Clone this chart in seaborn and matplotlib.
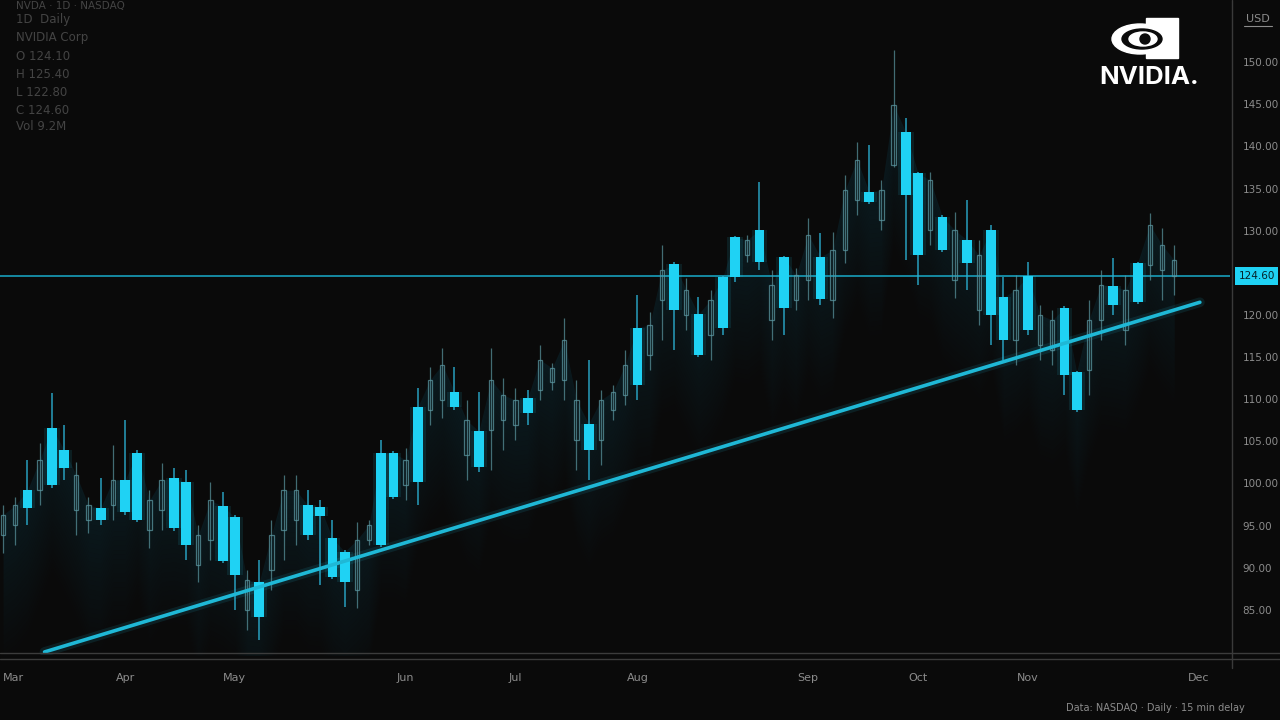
#!/usr/bin/env python3
"""
NVDA daily candles - dark terminal style chart with trend line and last price.
"""

import numpy as np
import pandas as pd
import matplotlib
matplotlib.use("Agg")
import matplotlib.pyplot as plt
from matplotlib.lines import Line2D
from matplotlib.patches import Rectangle, Ellipse, Circle
import seaborn as sns

# ─── Data ─────────────────────────────────────────────────────────────────────
OPEN = [
    96.3, 97.4, 97.1, 102.8, 99.8, 101.8, 101.0, 97.4, 95.7, 100.4,
    96.6, 95.7, 98.0, 100.4, 94.7, 92.7, 93.9, 98.0, 90.8, 89.1,
    88.5, 84.2, 93.9, 99.2, 99.2, 93.9, 96.1, 88.9, 88.3, 93.3,
    95.1, 92.7, 98.4, 102.8, 100.2, 112.3, 114.1, 109.1, 107.5, 102.0,
    112.3, 110.5, 109.9, 108.4, 114.7, 113.7, 117.0, 109.9, 104.0, 109.9,
    110.9, 114.1, 111.7, 118.8, 125.3, 120.6, 123.0, 115.2, 121.8, 118.5,
    124.5, 128.9, 126.3, 123.6, 120.8, 124.7, 129.5, 121.9, 127.7, 134.8,
    138.4, 133.4, 134.8, 144.9, 134.2, 127.1, 136.0, 127.7, 130.1, 126.2,
    127.1, 120.0, 117.0, 123.0, 118.2, 120.0, 119.4, 112.9, 108.7, 119.4,
    123.6, 121.2, 123.0, 121.5, 130.7, 128.3, 126.5,
]
HIGH = [
    97.4, 98.4, 102.8, 104.8, 110.7, 106.9, 102.5, 98.4, 100.7, 104.6,
    107.5, 104.0, 99.2, 102.4, 101.8, 101.6, 95.1, 100.2, 99.0, 96.3,
    89.7, 90.9, 95.7, 101.0, 101.0, 99.2, 98.0, 95.7, 92.1, 95.4,
    95.7, 105.2, 103.8, 104.2, 111.3, 113.8, 116.1, 113.8, 109.9, 110.9,
    116.1, 112.5, 111.3, 111.1, 116.4, 114.3, 119.6, 112.3, 114.7, 111.1,
    111.7, 115.8, 122.4, 120.3, 128.3, 126.3, 124.4, 122.1, 123.0, 124.6,
    129.4, 129.5, 135.8, 125.3, 127.0, 125.6, 131.5, 129.7, 129.8, 136.6,
    140.5, 140.2, 136.0, 151.4, 143.4, 137.0, 137.0, 131.8, 132.2, 133.6,
    128.9, 130.7, 124.5, 124.7, 126.3, 121.2, 120.6, 121.0, 113.4, 121.8,
    125.3, 126.7, 124.7, 126.3, 132.1, 130.3, 128.3,
]
LOW = [
    91.7, 92.7, 95.1, 97.4, 99.5, 100.4, 93.9, 94.1, 95.1, 95.7,
    96.3, 95.4, 92.3, 94.5, 94.4, 90.9, 88.3, 90.9, 90.5, 85.0,
    82.6, 81.4, 87.4, 90.9, 92.7, 93.3, 88.0, 88.6, 85.3, 85.2,
    92.7, 92.4, 98.1, 98.0, 97.4, 106.9, 107.8, 108.7, 100.4, 101.4,
    101.6, 104.0, 105.2, 106.9, 109.9, 111.1, 109.9, 101.6, 100.4, 102.2,
    107.5, 109.3, 109.9, 113.5, 117.0, 115.8, 118.2, 115.0, 114.7, 117.6,
    123.9, 126.3, 125.3, 117.0, 117.6, 120.6, 121.8, 121.2, 119.6, 126.2,
    131.9, 133.2, 130.1, 137.6, 126.5, 123.6, 128.3, 127.5, 122.0, 123.0,
    118.8, 116.4, 114.7, 114.1, 117.6, 114.7, 114.1, 110.5, 108.5, 110.5,
    117.0, 120.0, 116.4, 121.3, 124.1, 121.8, 122.4,
]
CLOSE = [
    93.9, 95.1, 99.2, 99.2, 106.6, 104.0, 96.9, 95.7, 97.1, 97.4,
    100.4, 103.6, 94.5, 96.9, 100.6, 100.2, 90.3, 93.3, 97.3, 96.0,
    85.0, 88.3, 89.7, 94.5, 95.7, 97.4, 97.2, 93.5, 91.9, 87.4,
    93.3, 103.6, 103.6, 99.8, 109.1, 108.7, 109.9, 110.9, 103.4, 106.2,
    106.3, 107.5, 106.9, 110.1, 111.1, 112.0, 112.3, 105.2, 107.1, 105.2,
    108.7, 110.5, 118.5, 115.2, 121.8, 126.0, 120.0, 120.1, 117.6, 124.5,
    129.2, 127.1, 130.1, 119.4, 126.9, 121.8, 124.1, 126.9, 121.8, 127.7,
    133.6, 134.6, 131.3, 137.8, 141.7, 136.8, 130.1, 131.6, 124.1, 128.9,
    120.6, 130.1, 122.1, 117.0, 124.6, 116.4, 115.8, 120.8, 113.2, 113.5,
    119.4, 123.4, 118.2, 126.2, 125.9, 125.3, 124.6,
]

MONTH_POS = [0, 10, 19, 33, 42, 52, 66, 75, 84, 98]
MONTH_LABELS = ["Mar", "Apr", "May", "Jun", "Jul", "Aug", "Sep", "Oct", "Nov", "Dec"]

PRICE_TICKS = [85, 90, 95, 100, 105, 110, 115, 120, 130, 135, 140, 145, 150]

TREND_X = [3.4, 98.1]
TREND_Y = [80.0, 121.5]

LAST_PRICE = 124.6

HEADER_LINES = ["NVDA · 1D · NASDAQ", "1D  Daily", "NVIDIA Corp",
                "O 124.10", "H 125.40", "L 122.80", "C 124.60", "Vol 9.2M"]

# ─── Style ────────────────────────────────────────────────────────────────────
BG = "#0a0a0a"
CYAN = "#1fd2f4"
WICK = "#2aaed0"
HOLLOW = "#5a96a0"
AXIS_TXT = "#8c8c8c"

sns.set_theme(style="dark", rc={
    "axes.facecolor": BG, "figure.facecolor": BG, "savefig.facecolor": BG,
})
plt.rcParams["font.family"] = ["DejaVu Sans"]

df = pd.DataFrame({"open": OPEN, "high": HIGH, "low": LOW, "close": CLOSE})
df["x"] = np.arange(len(df))
df["top"] = df[["open", "close"]].max(axis=1)
df["bot"] = df[["open", "close"]].min(axis=1)
bull = df[df["close"] >= df["open"]]
bear = df[df["close"] < df["open"]]

W, H = 1280, 720
fig = plt.figure(figsize=(12.8, 7.2), dpi=100)
ax = fig.add_axes([0, 65 / H, 1230 / W, 655 / H])
ax.set_xlim(-0.25, 100.57)
ax.set_ylim(79.64, 157.37)

# ── haze under the price envelope (stacked soft bands) ───────────────────────
n_layers = 32
for k in range(n_layers):
    ax.fill_between(df["x"], df["top"] - k * 0.55, df["top"] - (k + 1) * 0.55,
                    color="#0d4658", alpha=0.26 * (1 - k / n_layers), lw=0, zorder=1)

# ── horizontal last-price line + trend line ──────────────────────────────────
ax.axhline(LAST_PRICE, color="#1793ad", lw=1.3, zorder=2)
sns.lineplot(x=TREND_X, y=TREND_Y, ax=ax, color="#1fb8d6", lw=7, alpha=0.12, zorder=3)
sns.lineplot(x=TREND_X, y=TREND_Y, ax=ax, color="#1fb8d6", lw=2.6, zorder=6)

# ── hollow (down) candles ────────────────────────────────────────────────────
ax.vlines(bear["x"], bear["low"], bear["high"], color=HOLLOW, lw=0.9, alpha=0.7, zorder=4)
ax.bar(bear["x"], bear["top"] - bear["bot"], bottom=bear["bot"], width=0.36,
       fill=False, edgecolor=HOLLOW, lw=0.9, alpha=0.75, zorder=4)

# ── filled (up) candles with glow ────────────────────────────────────────────
ax.vlines(bull["x"], bull["low"], bull["high"], color=WICK, lw=1.1, alpha=0.9, zorder=4)
ax.bar(bull["x"], bull["top"] - bull["bot"], bottom=bull["bot"], width=1.3,
       color=CYAN, alpha=0.10, lw=0, zorder=4)
ax.bar(bull["x"], bull["top"] - bull["bot"], bottom=bull["bot"], width=0.8,
       color=CYAN, lw=0, zorder=5)

# ── axes: right price scale, bottom months ───────────────────────────────────
for s in ax.spines.values():
    s.set_visible(False)
ax.grid(False)
ax.set_xlabel("")
ax.set_ylabel("")
ax.yaxis.tick_right()
ax.set_yticks(PRICE_TICKS, [f"{p:.2f}" for p in PRICE_TICKS])
ax.tick_params(axis="y", length=0, pad=9, labelcolor=AXIS_TXT, labelsize=7.5)
ax.set_xticks(MONTH_POS, MONTH_LABELS)
ax.tick_params(axis="x", length=0, pad=13, labelcolor=AXIS_TXT, labelsize=8)
ax.get_xticklabels()[0].set_ha("left")

ax.annotate(f"{LAST_PRICE:.2f}", xy=(1.0, LAST_PRICE),
            xycoords=("axes fraction", "data"), xytext=(6, 0),
            textcoords="offset points", ha="left", va="center",
            fontsize=7.5, color="#06222a",
            bbox=dict(boxstyle="square,pad=0.35", fc=CYAN, ec="none"),
            annotation_clip=False)

# frame lines
for yy in (653, 659):
    fig.add_artist(Line2D([0, 1], [1 - yy / H] * 2, transform=fig.transFigure,
                          color="#3c3c3c", lw=1))
fig.add_artist(Line2D([1232 / W] * 2, [1, 1 - 668 / H], transform=fig.transFigure,
                      color="#3a3a3a", lw=1))

fig.text(1258 / W, 1 - 19 / H, "USD", ha="center", va="center",
         color=AXIS_TXT, fontsize=8)
fig.add_artist(Line2D([1244 / W, 1272 / W], [1 - 26 / H] * 2,
                      transform=fig.transFigure, color=AXIS_TXT, lw=0.8))

# header (top-left)
header_y = [6, 20, 38, 57, 74, 93, 110, 127]
for i, (txt, yy) in enumerate(zip(HEADER_LINES, header_y)):
    fig.text(16 / W, 1 - yy / H, txt, ha="left", va="center",
             color="#444444", fontsize=8.5 if i else 7.5)

fig.text(1155 / W, 1 - 708 / H, "Data: NASDAQ · Daily · 15 min delay",
         ha="center", va="center", color=AXIS_TXT, fontsize=7)

# ── NVIDIA logo (top-right) ──────────────────────────────────────────────────
lg = fig.add_axes([1100 / W, 1 - 62 / H, 84 / W, 46 / H])
lg.set_xlim(1100, 1184)
lg.set_ylim(62, 16)
lg.axis("off")
lg.add_patch(Rectangle((1146, 18), 32, 40, color="white"))
lg.add_patch(Ellipse((1140, 39), 56, 30, color="white"))
lg.add_patch(Ellipse((1142, 39), 40, 20, color=BG))
lg.add_patch(Ellipse((1143, 39), 28, 14, color="white"))
lg.add_patch(Circle((1145, 39), 5, color=BG))
fig.text(1149 / W, 1 - 77 / H, "NVIDIA.", ha="center", va="center",
         color="white", fontsize=18.5, fontweight="bold", family=["Inter", "DejaVu Sans"])

fig.savefig("out.png", dpi=100, facecolor=BG)
